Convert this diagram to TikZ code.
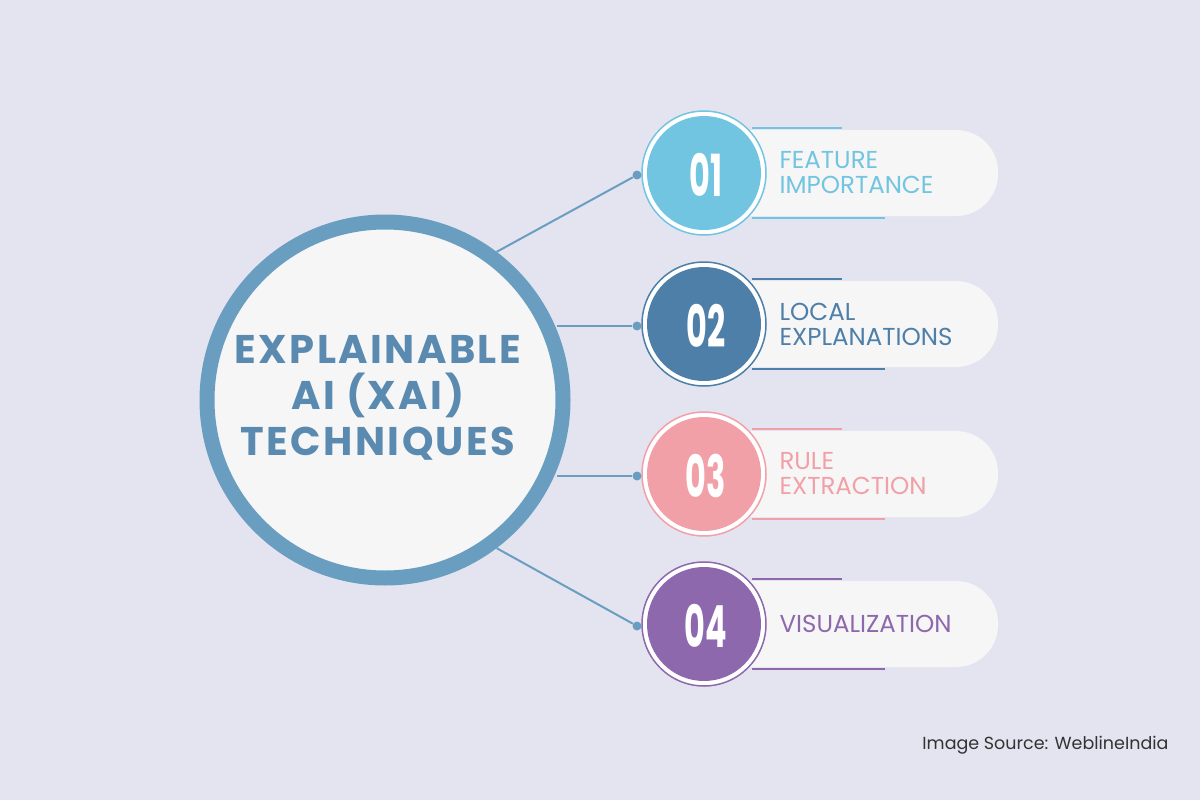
\documentclass[tikz,border=0pt]{standalone}
\usepackage{fontspec}
\setmainfont{Poppins}
\newfontfamily\titlefont[LetterSpace=6]{Poppins Bold}
\newfontfamily\numfont[FakeStretch=0.55]{Poppins Bold}
\definecolor{bg}{HTML}{E4E4F1}
\definecolor{pill}{HTML}{F6F6F6}
\definecolor{ring}{HTML}{6A9EC0}
\definecolor{ttl}{HTML}{5A8AB0}
\definecolor{cA}{HTML}{72C5E0}
\definecolor{cB}{HTML}{4D7FA8}
\definecolor{cC}{HTML}{F2A0A8}
\definecolor{cD}{HTML}{8E68AD}
\tikzset{
 conn/.style={draw=ring,line width=2pt},
 dotnode/.style={circle,fill=ring,inner sep=0pt,minimum size=9pt},
 lbl/.style={anchor=west,align=left,font=\fontsize{24.5}{25}\selectfont}
}
\begin{document}
\begin{tikzpicture}[x=1pt,y=-1pt]
\fill[bg] (0,0) rectangle (1200,800);
\useasboundingbox (0,0) rectangle (1200,800);
\node[circle,draw=ring,line width=15pt,fill=pill,minimum size=356pt] (main) at (385,400) {};
\node[font=\titlefont\fontsize{40}{46}\selectfont,text=ttl,align=center] (title) at (378,398) {EXPLAINABLE\\AI (XAI)\\TECHNIQUES};
\foreach \y/\c/\n/\t [count=\i] in {173/cA/01/{FEATURE\\IMPORTANCE},324/cB/02/{LOCAL\\EXPLANATIONS},474/cC/03/{RULE\\EXTRACTION},624/cD/04/{VISUALIZATION}}{
  \fill[pill] (650,\y-43) [rounded corners=42pt] rectangle (998,\y+43);
  \draw[\c,line width=1.5pt] (752,\y-45) -- (842,\y-45);
  \draw[\c,line width=1.5pt] (752,\y+45) -- (885,\y+45);
  \node[circle,draw=\c,line width=1.5pt,fill=white,minimum size=124pt,inner sep=0pt] (r\i) at (704,\y) {};
  \node[circle,fill=\c,minimum size=114pt,inner sep=0pt] (c\i) at (704,\y) {};
  \node[font=\numfont\fontsize{58}{58}\selectfont,text=white] (n\i) at (706,\y+2) {\n};
  \node[lbl,text=\c] (l\i) at (776,\y) {\t};
  \node[dotnode] (d\i) at (637,\y+2) {};
}
\draw[conn] (main.53) -- (d1);
\draw[conn] (main.east |- d2) ++(-14,0) coordinate (s2) -- (d2);
\draw[conn] (main.east |- d3) ++(-14,0) coordinate (s3) -- (d3);
\draw[conn] (main.-53) -- (d4);
\node[anchor=east,font=\fontsize{17.5}{19}\selectfont,text=black!80] (src) at (1172,745) {Image Source: WeblineIndia};
\end{tikzpicture}
\end{document}
